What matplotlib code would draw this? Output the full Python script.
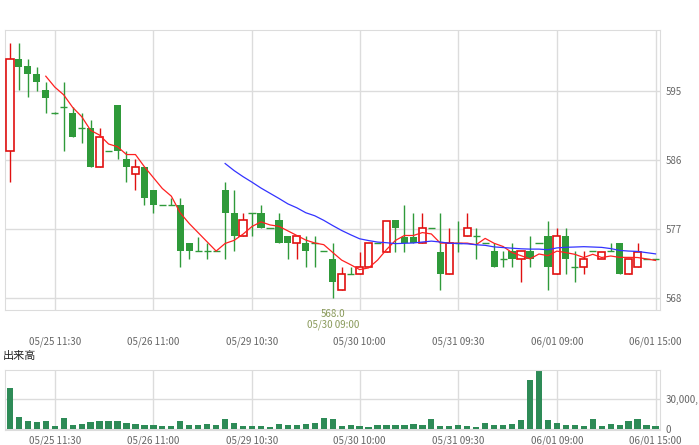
import numpy as np
import pandas as pd
import matplotlib
matplotlib.use("Agg")
import matplotlib.pyplot as plt

plt.rcParams['font.family'] = ['Noto Sans CJK JP', 'DejaVu Sans']

# OHLC of each candle
opens = [587.2, 599.2, 598.3, 597.2, 595.1, 592.1, 593.0, 592.1, 590.2, 590.2,
         585.1, 587.2, 593.2, 586.1, 584.2, 585.1, 582.1, 580.1, 580.1, 580.1,
         575.2, 574.1, 574.1, 574.1, 582.1, 579.1, 576.1, 579.1, 579.1, 577.1,
         578.2, 576.1, 575.2, 575.2, 575.2, 574.1, 573.1, 569.0, 571.1, 571.1,
         572.0, 575.2, 574.0, 578.2, 576.0, 576.0, 575.2, 577.1, 574.0, 571.1,
         575.2, 576.1, 576.1, 575.2, 574.1, 573.1, 574.1, 573.1, 574.1, 575.2,
         576.1, 571.1, 576.1, 572.0, 572.0, 574.1, 573.1, 574.1, 575.2, 571.1,
         572.0, 573.1, 573.1]
closes = [599.2, 598.1, 597.2, 596.2, 594.1, 592.1, 593.0, 589.0, 590.2, 585.1,
          589.0, 587.2, 587.2, 585.1, 585.1, 581.0, 580.1, 580.1, 580.1, 574.1,
          574.1, 574.1, 574.1, 574.1, 579.1, 576.1, 578.2, 579.1, 577.1, 577.1,
          575.2, 575.2, 576.1, 574.1, 575.2, 574.1, 570.1, 571.1, 571.1, 572.0,
          575.2, 575.2, 578.0, 577.1, 575.2, 575.2, 577.1, 577.1, 571.1, 575.2,
          575.2, 577.1, 576.1, 575.2, 572.0, 573.1, 573.1, 574.1, 573.1, 575.2,
          572.0, 576.1, 573.1, 572.0, 573.1, 574.1, 574.0, 574.1, 571.1, 573.1,
          574.0, 573.1, 573.1]
highs = [601.3, 601.3, 599.2, 598.1, 596.2, 592.3, 596.2, 593.0, 592.1, 591.2,
         590.2, 587.2, 593.2, 587.2, 586.1, 585.1, 582.1, 580.1, 581.0, 581.0,
         575.2, 576.0, 575.2, 574.1, 583.1, 582.1, 579.1, 579.1, 580.1, 577.1,
         579.1, 576.1, 576.1, 576.1, 576.1, 574.1, 575.2, 572.0, 572.0, 574.0,
         575.2, 575.2, 578.0, 578.2, 580.1, 579.1, 579.1, 577.1, 579.1, 577.1,
         578.0, 579.1, 577.1, 575.2, 575.2, 574.1, 575.2, 574.1, 576.1, 575.2,
         578.0, 577.1, 577.1, 574.1, 574.1, 574.1, 574.0, 575.2, 575.2, 573.1,
         575.2, 573.1, 573.1]
lows = [583.1, 595.1, 594.2, 595.0, 592.1, 592.0, 587.2, 589.0, 588.2, 585.1,
        585.1, 587.2, 586.1, 583.1, 582.1, 580.1, 579.1, 580.1, 580.1, 572.0,
        573.1, 574.1, 573.1, 574.1, 573.1, 574.1, 576.1, 576.1, 577.1, 577.1,
        575.2, 573.1, 573.1, 572.0, 572.0, 574.1, 568.0, 569.0, 571.1, 571.1,
        572.0, 575.2, 574.0, 574.0, 574.0, 575.2, 575.2, 577.1, 569.0, 571.1,
        574.0, 576.1, 573.1, 575.2, 572.0, 572.0, 572.0, 570.1, 572.0, 575.2,
        569.0, 571.1, 571.1, 570.1, 571.1, 574.1, 574.0, 574.1, 571.1, 571.1,
        572.0, 573.1, 573.1]
volume = [41500, 12100, 8400, 7400, 8400, 3400, 11500, 4400, 5400, 7400,
          8400, 8400, 8400, 6400, 5400, 4400, 4400, 3400, 3400, 8400,
          4400, 4400, 5400, 4400, 10400, 6400, 3400, 3400, 3400, 2400,
          5400, 4400, 4400, 5400, 6400, 11500, 10400, 3400, 4400, 3400,
          2400, 4400, 4400, 4400, 4400, 5400, 4400, 10400, 3400, 3400,
          4400, 3400, 2400, 6400, 4400, 4400, 5400, 9400, 48900, 60000,
          9400, 6400, 4400, 4400, 3400, 10400, 3400, 5400, 4400, 8400,
          10400, 4400, 3400]
tick_pos = [5, 16, 27, 39, 50, 61, 72]
tick_labels = ['05/25 11:30', '05/26 11:00', '05/29 10:30', '05/30 10:00',
               '05/31 09:30', '06/01 09:00', '06/01 15:00']
low_time = '05/30 09:00'

df = pd.DataFrame({'o': opens, 'h': highs, 'l': lows, 'c': closes, 'v': volume})
ma5 = df['c'].rolling(5).mean()
ma25 = df['c'].rolling(25).mean()
x = np.arange(len(df))

GREEN = '#2f9a3a'
RED = '#e01010'
GRID = '#dcdcdc'
LAB = '#666666'

fig = plt.figure(figsize=(6.99, 4.45), dpi=100)
ax = fig.add_axes([5/699, 135/445, 655/699, 280/445])
axv = fig.add_axes([5/699, 15/445, 655/699, 60/445])

for i, r in df.iterrows():
    up = r.c > r.o
    col = RED if up else GREEN
    ax.vlines(i, r.l, r.h, color=col, lw=1, zorder=2)
    lo, hi = min(r.o, r.c), max(r.o, r.c)
    if hi - lo < 0.15:
        ax.hlines(r.c, i - 0.4, i + 0.4, color=col, lw=1, zorder=3)
    elif up:
        ax.bar(i, hi - lo, 0.8, bottom=lo, facecolor='white', edgecolor=RED, lw=1.2, zorder=3)
    else:
        ax.bar(i, hi - lo, 0.8, bottom=lo, color=GREEN, zorder=3)

ax.plot(x, ma5, color='#ff2020', lw=0.9, zorder=4)
ax.plot(x, ma25, color='#3333ff', lw=0.9, zorder=4)

imin = int(np.argmin(lows))
ax.annotate(f'{lows[imin]:.1f}\n{low_time}', (imin, lows[imin]),
            xytext=(0, -8), textcoords='offset points', ha='center', va='top',
            color='#8a9a5b', fontsize=7, linespacing=1.1)

for a in (ax, axv):
    a.set_xlim(-0.55, 72.5)
    a.set_xticks(tick_pos)
    a.grid(True, color=GRID, lw=1)
    a.set_axisbelow(True)
    for s in a.spines.values():
        s.set_color(GRID)
    a.yaxis.tick_right()
    a.tick_params(length=0, labelsize=7, colors=LAB, pad=4)

ax.set_ylim(566.4, 603.0)
ax.set_yticks([568, 577, 586, 595])
ax.set_xticklabels(tick_labels)
ax.tick_params(axis='x', pad=19)

axv.bar(x, np.minimum(df['v'], 59000), 0.7, color='#2e8b57')
axv.set_ylim(-1000, 59000)
axv.set_yticks([0, 30000])
axv.set_yticklabels(['0', '30,000,'])
axv.set_xticklabels(tick_labels)
fig.text(3/699, 1 - 356/445, '出来高', fontsize=8, va='center', color='#222222')

fig.savefig('out.png', dpi=100)
